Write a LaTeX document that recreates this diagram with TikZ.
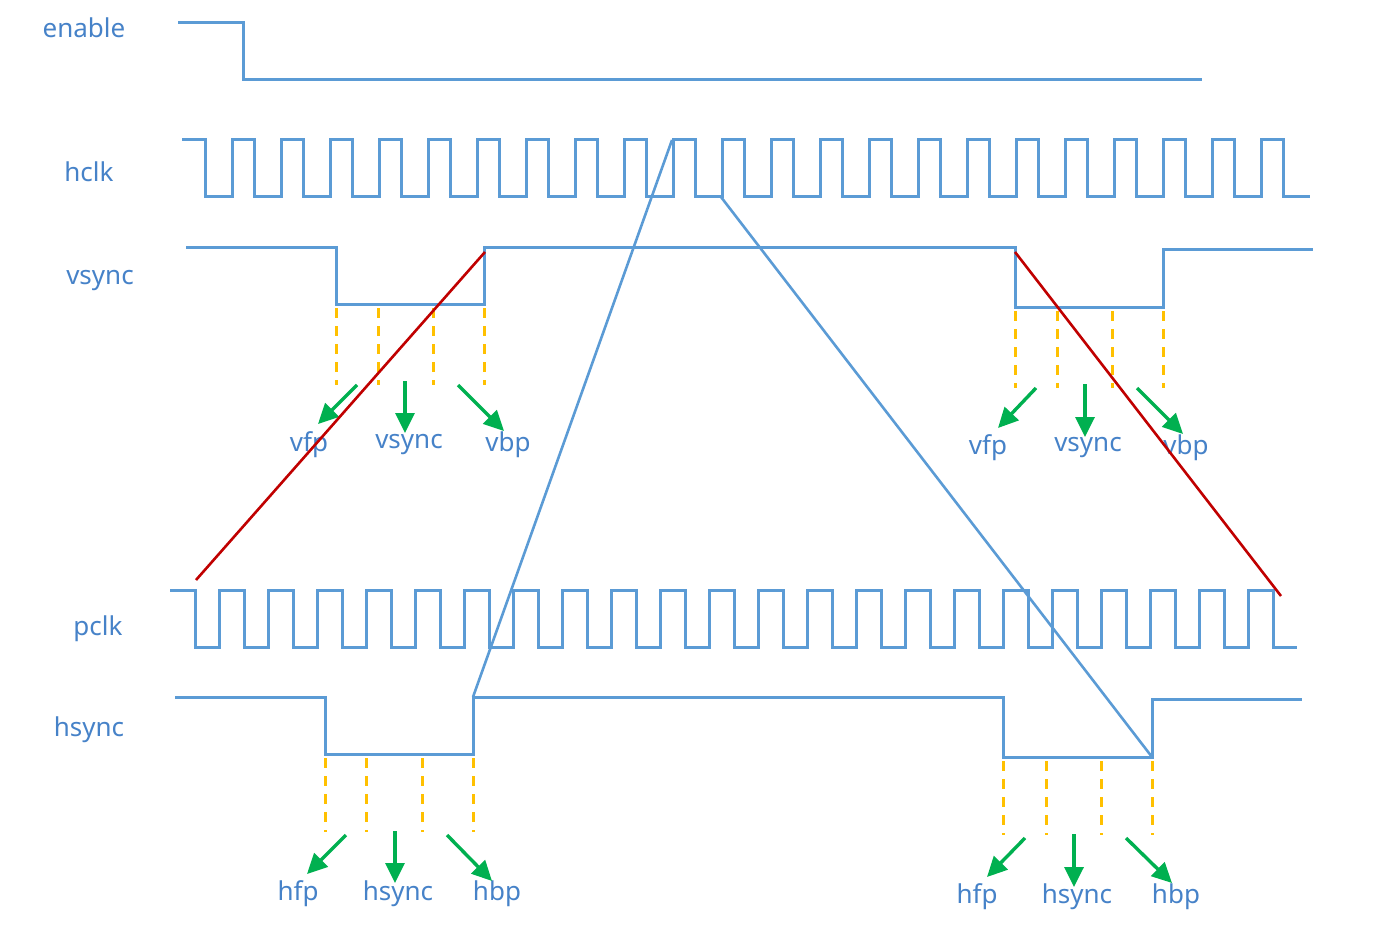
\documentclass[tikz,border=0pt]{standalone}
\usepackage{fontspec}
\setmainfont{Noto Sans}
\usetikzlibrary{arrows.meta}
\definecolor{wave}{RGB}{91,155,213}
\definecolor{txt}{RGB}{70,130,200}
\definecolor{dashyel}{RGB}{255,192,0}
\definecolor{grn}{RGB}{0,176,80}
\definecolor{redl}{RGB}{192,0,0}
\begin{document}
\begin{tikzpicture}[x=1pt,y=-1pt,
  sig/.style={wave,line width=3pt},
  lab/.style={txt,font=\fontsize{26}{30}\selectfont,inner sep=0pt},
  dsh/.style={dashyel,line width=3pt,dash pattern=on 10pt off 8pt},
  arr/.style={grn,line width=3.4pt,-{Triangle[length=20pt,width=19pt]}},
  diag/.style={wave,line width=2.6pt},
  rdiag/.style={redl,line width=2.6pt}]
\useasboundingbox (0,0) rectangle (1386,928);
% labels
\node[lab] (Len) at (84,28) {enable};
\node[lab] (Lh) at (89,172) {hclk};
\node[lab] (Lv) at (100,281) {vsync};
\node[lab] (Lp) at (98,629) {pclk};
\node[lab] (Lhs) at (89,730) {hsync};
% enable
\draw[sig] (178,23) -- (243,23) -- (243,80) -- (1202,80);
% hclk
\draw[sig] (182,140) -- (205,140)
  \foreach \k in {0,...,21} { -- (205+49*\k,197) -- (232+49*\k,197) -- (232+49*\k,140) -- (254+49*\k,140)}
  -- (1283,140) -- (1283,197) -- (1310,197);
% pclk
\draw[sig] (170,590) -- (195,590)
  \foreach \k in {0,...,21} { -- (195+49*\k,647) -- (219+49*\k,647) -- (219+49*\k,590) -- (244+49*\k,590)}
  -- (1273,590) -- (1273,647) -- (1297,647);
% vsync
\draw[sig] (186,247) -- (336,247) -- (336,304) -- (484,304) -- (484,247) -- (1015,247) -- (1015,307) -- (1163,307) -- (1163,249) -- (1313,249);
% hsync
\draw[sig] (175,697) -- (325,697) -- (325,754) -- (473,754) -- (473,697) -- (1003,697) -- (1003,757) -- (1152,757) -- (1152,699) -- (1302,699);
% dashes
\foreach \x in {336,378,433,484} \draw[dsh] (\x,308) -- (\x,385);
\foreach \x in {1015,1057,1112,1163} \draw[dsh] (\x,311) -- (\x,388);
\foreach \x in {325,366,422,473} \draw[dsh] (\x,758) -- (\x,832);
\foreach \x in {1003,1046,1101,1152} \draw[dsh] (\x,761) -- (\x,835);
% diagonals
\coordinate (hA) at (473,697); \coordinate (hB) at (672,140);
\coordinate (hC) at (721,197); \coordinate (hD) at (1152,757);
\coordinate (rA) at (196,580); \coordinate (rB) at (485,252);
\coordinate (rC) at (1015,252); \coordinate (rD) at (1281,596);
\draw[diag] (hA) -- (hB);
\draw[diag] (hC) -- (hD);
% arrows and labels
\coordinate (a1) at (357,385); \coordinate (a2) at (405,381); \coordinate (a3) at (458,385);
\coordinate (a4) at (1036,388); \coordinate (a5) at (1085,384); \coordinate (a6) at (1137,388);
\coordinate (a7) at (346,835); \coordinate (a8) at (395,831); \coordinate (a9) at (447,835);
\coordinate (a10) at (1025,838); \coordinate (a11) at (1074,834); \coordinate (a12) at (1126,838);
\node[lab] (vfp1) at (309,445) {vfp};
\node[lab] (vs1) at (409,445) {vsync};
\node[lab] (vbp1) at (508,445) {vbp};
\node[lab] (vfp2) at (988,448) {vfp};
\node[lab] (vs2) at (1088,448) {vsync};
\node[lab] (vbp2) at (1186,448) {vbp};
\node[lab] (hfp1) at (298,894) {hfp};
\node[lab] (hs1) at (398,894) {hsync};
\node[lab] (hbp1) at (497,894) {hbp};
\node[lab] (hfp2) at (977,897) {hfp};
\node[lab] (hs2) at (1077,897) {hsync};
\node[lab] (hbp2) at (1176,897) {hbp};
\draw[arr] (a1) -- (318,424);
\draw[arr] (a2) -- (405,433);
\draw[arr] (a3) -- (504,431);
\draw[arr] (a4) -- (998,428);
\draw[arr] (a5) -- (1085,437);
\draw[arr] (a6) -- (1183,434);
\draw[arr] (a7) -- (307,874);
\draw[arr] (a8) -- (395,883);
\draw[arr] (a9) -- (492,881);
\draw[arr] (a10) -- (987,877);
\draw[arr] (a11) -- (1074,887);
\draw[arr] (a12) -- (1172,883);
\draw[rdiag] (rA) -- (rB);
\draw[rdiag] (rC) -- (rD);
\end{tikzpicture}
\end{document}
